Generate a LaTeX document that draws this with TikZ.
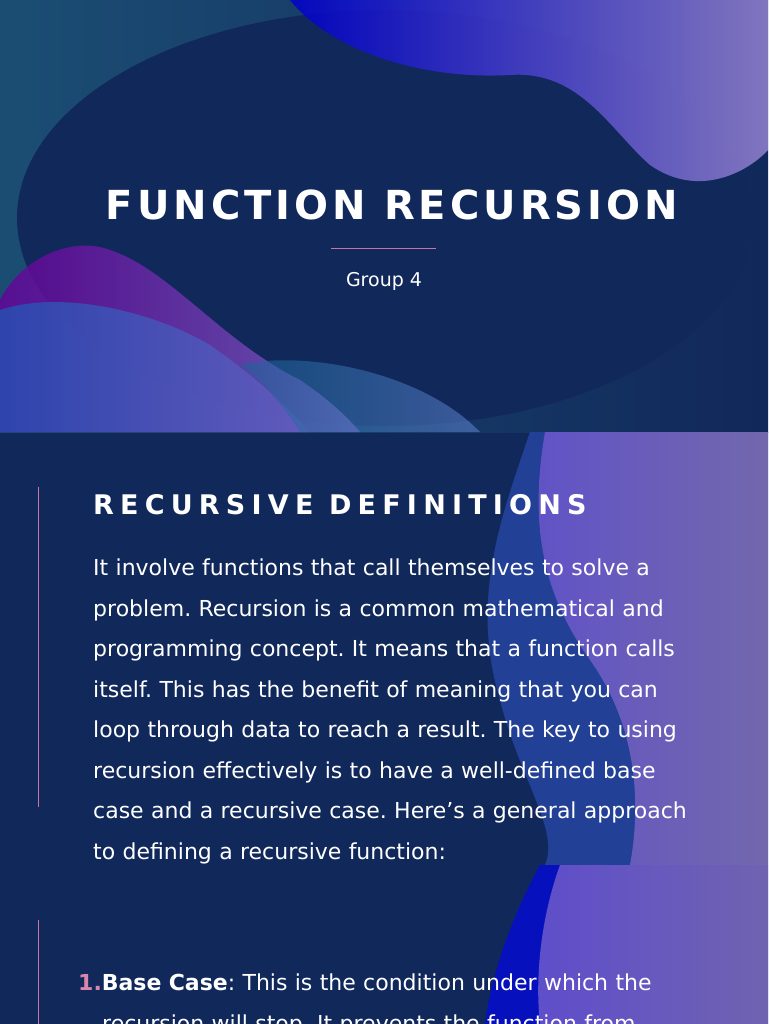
\documentclass[tikz,border=0pt]{standalone}
\usepackage{fontspec}
\setmainfont{DejaVu Sans}
\frenchspacing
\begin{document}
\begin{tikzpicture}[x=1pt,y=-1pt,
  txt/.style={text=white,anchor=north west,inner sep=0pt,align=left},
  vbar/.style={draw=violet!40!pink,line width=0.8pt}]
\definecolor{bg}{HTML}{11285A}
\definecolor{bgl}{HTML}{224170}
\definecolor{pu}{HTML}{7A64C4}
\definecolor{bl}{HTML}{2A4BB0}
\useasboundingbox (0,0) rectangle (768,1024);
\fill[bg] (0,0) rectangle (768,1024);
% top slide
\shade[left color=bgl!80!teal, right color=bg] (0,0) rectangle (768,432);
\fill[bg] (385,218) ellipse [x radius=368, y radius=208];
\begin{scope}
\clip (0,0) rectangle (768,432);
\shade[left color=blue!80!black, right color=pu!80!white, opacity=0.85]
  (290,0) .. controls (330,50) and (420,80) .. (510,75)
  .. controls (580,70) and (610,130) .. (650,165)
  .. controls (700,200) and (750,170) .. (768,150) -- (768,0) -- cycle;
\shade[left color=violet!80!blue, right color=pu, opacity=0.8]
  (0,300) .. controls (20,260) and (70,235) .. (110,250)
  .. controls (170,270) and (220,340) .. (300,380)
  .. controls (330,400) and (350,420) .. (360,432) -- (0,432) -- cycle;
\shade[left color=bl, right color=pu!70!bl, opacity=0.9]
  (0,310) .. controls (60,290) and (150,310) .. (210,345)
  .. controls (260,380) and (290,410) .. (310,432) -- (0,432) -- cycle;
\shade[left color=teal!50!bl, right color=cyan!20!pu, opacity=0.55]
  (240,365) .. controls (300,350) and (420,370) .. (480,432) -- (300,432) .. controls (280,400) and (260,380) .. (240,365) -- cycle;
\end{scope}
\node[text=white,font=\fontsize{40}{44}\selectfont\bfseries\addfontfeatures{LetterSpace=10}] (title) at (392,205) {FUNCTION RECURSION};
\draw[draw=violet!40!pink,line width=0.8pt] (331,248) -- (436,248);
\node[text=white,font=\fontsize{19}{22}\selectfont] (sub) at (384,281) {Group 4};
% second slide right shapes
\begin{scope}
\clip (0,432) rectangle (768,865);
\fill[bl!70!bg] (530,432) .. controls (500,520) and (470,600) .. (500,700) .. controls (520,780) and (560,830) .. (545,865) -- (768,865) -- (768,432) -- cycle;
\shade[left color=pu!85!blue, right color=pu!70!gray, opacity=0.9]
  (545,432) .. controls (530,520) and (540,590) .. (590,660) .. controls (640,730) and (640,810) .. (630,865) -- (768,865) -- (768,432) -- cycle;
\end{scope}
\begin{scope}
\clip (0,865) rectangle (768,1024);
\fill[blue!60!bg] (540,865) .. controls (510,920) and (490,980) .. (485,1024) -- (768,1024) -- (768,865) -- cycle;
\shade[left color=pu!85!blue, right color=pu!70!gray, opacity=0.9]
  (560,865) .. controls (540,920) and (535,980) .. (540,1024) -- (768,1024) -- (768,865) -- cycle;
\end{scope}
\draw[vbar] (38,487) -- (38,807);
\draw[vbar] (38,920) -- (38,1024);
\node[txt,font=\fontsize{27}{30}\selectfont\bfseries\addfontfeatures{LetterSpace=23}] (h) at (93,494) {RECURSIVE DEFINITIONS};
\node[txt,font=\fontsize{22}{40.5}\selectfont,text width=690pt] (body) at (93,559) {It involve functions that call themselves to solve a\\
problem. Recursion is a common mathematical and\\
programming concept. It means that a function calls\\
itself. This has the benefit of meaning that you can\\
loop through data to reach a result. The key to using\\
recursion effectively is to have a well-defined base\\
case and a recursive case. Here's a general approach\\
to defining a recursive function:};
\node[txt,font=\fontsize{22}{40.5}\selectfont,text width=690pt] (item) at (78,974) {\textcolor{violet!30!pink}{\bfseries 1.}\textbf{Base Case}: This is the condition under which the\\
\hspace*{24pt}recursion will stop. It prevents the function from};
\end{tikzpicture}
\end{document}
